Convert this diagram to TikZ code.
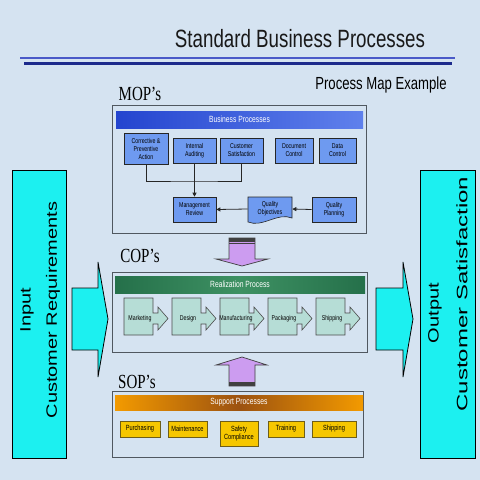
\documentclass[tikz,border=0pt]{standalone}
\usepackage{fontspec}
\setmainfont{Liberation Sans}[FakeStretch=0.75]
\newfontfamily\serifn{Liberation Serif}[FakeStretch=0.75]
\newfontfamily\sansr{Liberation Sans}
\usetikzlibrary{arrows.meta}
\definecolor{bg}{HTML}{D5E3F1}
\definecolor{bpblue}{HTML}{6E9AF0}
\definecolor{tealbox}{HTML}{B6DDD6}
\definecolor{ybox}{HTML}{F6C700}
\definecolor{yedge}{HTML}{6E5E18}
\definecolor{cyanbox}{HTML}{1CF0F0}
\definecolor{purp}{HTML}{CC9CF0}
\definecolor{hb1}{HTML}{2445CF}
\definecolor{hb2}{HTML}{5F80EC}
\definecolor{hg1}{HTML}{25704A}
\definecolor{hg2}{HTML}{3E9163}
\definecolor{ho1}{HTML}{F39A00}
\definecolor{ho2}{HTML}{9C5210}
\definecolor{line1}{HTML}{4A5AC8}
\definecolor{line2}{HTML}{1C2A8C}
\definecolor{grpedge}{HTML}{505860}
\tikzset{
  grp/.style={draw=grpedge, line width=0.7pt},
  hdr/.style={inner sep=0pt, text=white, font=\fontsize{9}{10}\selectfont},
  bbox/.style={draw=black!85, fill=bpblue, line width=0.6pt, inner sep=0pt, align=center, font=\fontsize{7}{8}\selectfont},
  ybx/.style={draw=yedge, fill=ybox, line width=0.6pt, inner sep=0pt, align=center, font=\fontsize{7.5}{8.5}\selectfont},
  proc/.style={draw=black!70, fill=tealbox, line width=0.6pt},
  ptext/.style={inner sep=0pt, font=\fontsize{7}{8}\selectfont},
  conn/.style={draw=black!85, line width=0.8pt},
  arr/.style={conn, -{Triangle[length=4pt,width=4pt]}},
  bigarrow/.style={draw=black, fill=cyanbox, line width=0.8pt},
  parrow/.style={draw=black!75, fill=purp, line width=0.7pt},
  rottext/.style={rotate=90, inner sep=0pt, font=\sansr\fontsize{20}{24}\selectfont},
  label/.style={inner sep=0pt}
}
\begin{document}
\begin{tikzpicture}[x=1pt,y=-1pt]
\fill[bg] (0,0) rectangle (480,480);
\useasboundingbox (0,0) rectangle (480,480);
% title
\node[label, anchor=base, font=\fontsize{25}{28}\selectfont, text=black!90] (title) at (300,47) {Standard Business Processes};
\draw[line1, line width=1.2pt] (20,58) -- (455,58);
\draw[line2, line width=2.2pt] (24,63.5) -- (452,63.5);
\node[label, anchor=base, font=\fontsize{17.5}{19}\selectfont] (pme) at (381,89) {Process Map Example};
% section labels
\node[label, anchor=base, font=\serifn\fontsize{20}{22}\selectfont] (mop) at (140,100) {MOP’s};
\node[label, anchor=base, font=\serifn\fontsize{20}{22}\selectfont] (cop) at (140,262) {COP’s};
\node[label, anchor=base, font=\serifn\fontsize{20}{22}\selectfont] (sop) at (137,388) {SOP’s};
% MOP group
\draw[grp] (112,105) rectangle (366,233);
\node[hdr, minimum width=247pt, minimum height=17pt, left color=hb1, right color=hb2] (bph) at (239.5,119.5) {Business Processes};
\node[bbox, minimum width=44pt, minimum height=31pt] (corr) at (146,148.5) {Corrective \&\\Preventive\\Action};
\node[bbox, minimum width=43pt, minimum height=25pt] (intaud) at (194.5,150.5) {Internal\\Auditing};
\node[bbox, minimum width=43pt, minimum height=25pt] (custsat) at (241.5,150.5) {Customer\\Satisfaction};
\node[bbox, minimum width=38pt, minimum height=25pt] (docctl) at (294,150.5) {Document\\Control};
\node[bbox, minimum width=37pt, minimum height=25pt] (datactl) at (337.5,150.5) {Data\\Control};
\node[bbox, minimum width=43pt, minimum height=25pt] (mgmt) at (194.5,209.5) {Management\\Review};
\draw[bbox] (248,197) -- (292,197) -- (292,218) .. controls (278,212) and (262,228) .. (248,222) -- cycle;
\node[bbox, draw=none, fill=none, minimum width=44pt, minimum height=25pt] (qobj) at (270,209) {Quality\\Objectives};
\node[bbox, minimum width=44pt, minimum height=25pt] (qplan) at (334,209.5) {Quality\\Planning};
\coordinate (junc) at (194.5,181);
\draw[conn] (corr.south) |- (junc) -| (custsat.south);
\draw[arr] (intaud.south) -- (mgmt.north);
\draw[arr] (qplan.west) -- (qobj.east);
\draw[arr] (qobj.west) -- (mgmt.east);
% arrow MOP -> COP
\draw[parrow] (229,238) -- (255,238) -- (255,259) -- (268,259) -- (242,266) -- (216,259) -- (229,259) -- cycle;
\fill[black!75] (229,238) rectangle (255,241.5);
\draw[black!75, line width=0.8pt] (229,243.5) -- (255,243.5);
% COP group
\draw[grp] (112,272) rectangle (367,352);
\node[hdr, minimum width=250pt, minimum height=17pt, left color=hg1, right color=hg1, middle color=hg2] (rph) at (240,284.5) {Realization Process};
\foreach \x/\n/\t in {124/mkt/Marketing, 172/dsg/Design, 220/mfg/Manufacturing, 268/pkg/Packaging, 316/shp/Shipping}{
  \draw[proc] (\x,298) -- ++(29,0) -- ++(0,15) -- ++(5,0) -- ++(0,-6) -- ++(10,11.5) -- ++(-10,11.5) -- ++(0,-6) -- ++(-5,0) -- ++(0,11) -- ++(-29,0) -- cycle;
  \node[ptext] (\n) at (\x+16,318.5) {\t};
}
% arrow SOP -> COP
\draw[parrow] (242,357) -- (267,365) -- (255,365) -- (255,386) -- (229,386) -- (229,365) -- (216,365) -- cycle;
\fill[black!75] (229,382) rectangle (255,386);
% SOP group
\draw[grp] (112,391) rectangle (363,457);
\node[hdr, minimum width=248pt, minimum height=15pt, left color=ho1, right color=ho1, middle color=ho2] (sph) at (239,402.5) {Support Processes};
\node[ybx, minimum width=40pt, minimum height=16pt] (purch) at (140,429) {Purchasing};
\node[ybx, minimum width=39pt, minimum height=16pt] (maint) at (187.5,429) {Maintenance};
\node[ybx, minimum width=38pt, minimum height=25pt] (safety) at (239,433.5) {Safety\\Compliance};
\node[ybx, minimum width=36pt, minimum height=16pt] (train) at (286,429) {Training};
\node[ybx, minimum width=44pt, minimum height=16pt] (sship) at (334,429) {Shipping};
% input / output
\draw[bigarrow] (12,170) rectangle (66,458);
\node[rottext] (inl1) at (27,310) {\scalebox{1}[0.75]{Input}};
\node[rottext] (inl2) at (53,310) {\scalebox{1}[0.75]{Customer Requirements}};
\draw[bigarrow] (72,288) -- (98,288) -- (98,262) -- (108,319) -- (98,377) -- (98,350) -- (72,350) -- cycle;
\draw[bigarrow] (376,288) -- (403,288) -- (403,262) -- (413,319) -- (403,377) -- (403,350) -- (376,350) -- cycle;
\draw[bigarrow] (420,170) rectangle (475,458);
\node[rottext] (outl1) at (435,313) {\scalebox{1}[0.75]{Output}};
\node[rottext, font=\sansr\fontsize{24}{28}\selectfont] (outl2) at (462,294) {\scalebox{1}[0.63]{Customer Satisfaction}};
\end{tikzpicture}
\end{document}
